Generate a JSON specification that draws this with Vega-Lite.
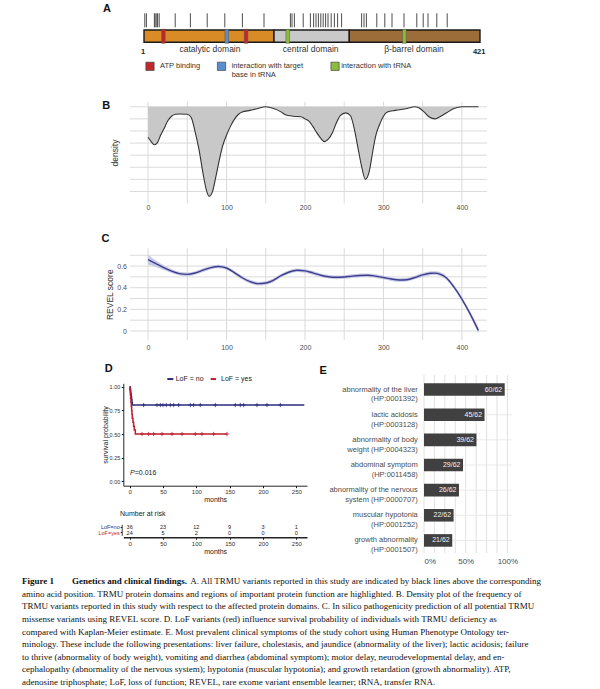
{
"$schema": "https://vega.github.io/schema/vega-lite/v6.json",
"width": 600, "height": 689, "autosize": {"type": "none"}, "padding": 0, "background": "white",
"config": {"font": "Liberation Sans", "view": {"stroke": null}, "axis": {"labelFlush": false}},
"resolve": {"scale": {"x": "independent", "y": "independent", "color": "independent"}, "axis": {"x": "independent", "y": "independent"}},
"layer": [
{"data": {"values": [{"r":2},{"r":4},{"r":14},{"r":15},{"r":17},{"r":18},{"r":20},{"r":40},{"r":59},{"r":80},{"r":102},{"r":124},{"r":151},{"r":184},{"r":186},{"r":189},{"r":200},{"r":209},{"r":213},{"r":216},{"r":219},{"r":222},{"r":225},{"r":228},{"r":231},{"r":235},{"r":239},{"r":243},{"r":248},{"r":273},{"r":276},{"r":279},{"r":292},{"r":302},{"r":311},{"r":326},{"r":342},{"r":350},{"r":356},{"r":367},{"r":380}]},
 "mark": {"type": "rule", "color": "#3a3a3a", "strokeWidth": 0.9},
 "encoding": {"x": {"field": "r", "type": "quantitative", "scale": {"domain": [1,421], "range": [144,480], "nice": false, "zero": false}, "axis": null},
  "y": {"datum": 1.33, "type": "quantitative", "scale": {"domain": [0,9], "range": [0,90], "nice": false, "zero": false}, "axis": null}, "y2": {"datum": 2.73}}},
{"data": {"values": [{"d":"catalytic domain","s":1,"e":163.5},{"d":"central domain","s":163.5,"e":257.6},{"d":"β-barrel domain","s":257.6,"e":421}]},
 "mark": {"type": "rect", "stroke": "#1a1a1a", "strokeWidth": 1.4},
 "encoding": {"x": {"field": "s", "type": "quantitative", "scale": {"domain": [1,421], "range": [144,480], "nice": false, "zero": false}, "axis": null}, "x2": {"field": "e"},
  "y": {"datum": 3.0, "type": "quantitative", "scale": {"domain": [0,9], "range": [0,90], "nice": false, "zero": false}, "axis": null}, "y2": {"datum": 4.23},
  "color": {"field": "d", "type": "nominal", "scale": {"domain": ["catalytic domain","central domain","β-barrel domain"], "range": ["#D98B26","#C9C9C9","#9C6C39"]}, "legend": null}}},
{"data": {"values": [{"site":"ATP binding","s":23,"e":27.5},{"site":"ATP binding","s":126.3,"e":130.8},{"site":"interaction with target base in tRNA","s":102.2,"e":106.7},{"site":"interaction with tRNA","s":178.4,"e":182.9},{"site":"interaction with tRNA","s":324.2,"e":328.7}]},
 "mark": {"type": "rect", "stroke": "#555555", "strokeWidth": 0.5},
 "encoding": {"x": {"field": "s", "type": "quantitative", "scale": {"domain": [1,421], "range": [144,480], "nice": false, "zero": false}, "axis": null}, "x2": {"field": "e"},
  "y": {"datum": 2.93, "type": "quantitative", "scale": {"domain": [0,9], "range": [0,90], "nice": false, "zero": false}, "axis": null}, "y2": {"datum": 4.33},
  "color": {"field": "site", "type": "nominal", "scale": {"domain": ["ATP binding","interaction with target base in tRNA","interaction with tRNA"], "range": ["#C1272D","#5B8ED0","#8DBB3A"]}, "legend": null}}},
{"data": {"values": [{"t":"catalytic domain","r":83.5},{"t":"central domain","r":209.4},{"t":"β-barrel domain","r":338.5}]},
 "mark": {"type": "text", "fontSize": 8.5, "color": "#333333", "align": "center", "baseline": "middle"},
 "encoding": {"x": {"field": "r", "type": "quantitative", "scale": {"domain": [1,421], "range": [144,480], "nice": false, "zero": false}, "axis": null},
  "y": {"datum": 4.9, "type": "quantitative", "scale": {"domain": [0,9], "range": [0,90], "nice": false, "zero": false}, "axis": null}, "text": {"field": "t"}}},
{"data": {"values": [{"t":"1","r":0},{"t":"421","r":420}]},
 "mark": {"type": "text", "fontSize": 7.5, "fontWeight": "bold", "color": "#222222", "align": "center", "baseline": "middle"},
 "encoding": {"x": {"field": "r", "type": "quantitative", "scale": {"domain": [1,421], "range": [144,480], "nice": false, "zero": false}, "axis": null},
  "y": {"datum": 5.17, "type": "quantitative", "scale": {"domain": [0,9], "range": [0,90], "nice": false, "zero": false}, "axis": null}, "text": {"field": "t"}}},
{"data": {"values": [{"site":"ATP binding","r":8.5},{"site":"interaction with target base in tRNA","r":97.9},{"site":"interaction with tRNA","r":239.8}]},
 "mark": {"type": "point", "shape": "square", "filled": true, "size": 68, "opacity": 1, "stroke": "#444444", "strokeWidth": 0.7},
 "encoding": {"x": {"field": "r", "type": "quantitative", "scale": {"domain": [1,421], "range": [144,480], "nice": false, "zero": false}, "axis": null},
  "y": {"datum": 6.63, "type": "quantitative", "scale": {"domain": [0,9], "range": [0,90], "nice": false, "zero": false}, "axis": null},
  "color": {"field": "site", "type": "nominal", "scale": {"domain": ["ATP binding","interaction with target base in tRNA","interaction with tRNA"], "range": ["#C1272D","#5B8ED0","#8DBB3A"]}, "legend": null}}},
{"data": {"values": [{"t":"ATP binding","r":21,"l":6.63},{"t":"interaction with target","r":110.6,"l":6.55},{"t":"base in tRNA","r":110.6,"l":7.5},{"t":"interaction with tRNA","r":247.5,"l":6.63}]},
 "mark": {"type": "text", "fontSize": 7.5, "color": "#333333", "align": "left", "baseline": "middle"},
 "encoding": {"x": {"field": "r", "type": "quantitative", "scale": {"domain": [1,421], "range": [144,480], "nice": false, "zero": false}, "axis": null},
  "y": {"field": "l", "type": "quantitative", "scale": {"domain": [0,9], "range": [0,90], "nice": false, "zero": false}, "axis": null}, "text": {"field": "t"}}},
{"data": {"values": [{"t":"A","r":-45.25,"l":0.85}]},
 "mark": {"type": "text", "fontSize": 11, "fontWeight": "bold", "color": "#111111", "align": "center", "baseline": "middle"},
 "encoding": {"x": {"field": "r", "type": "quantitative", "scale": {"domain": [1,421], "range": [144,480], "nice": false, "zero": false}, "axis": null},
  "y": {"field": "l", "type": "quantitative", "scale": {"domain": [0,9], "range": [0,90], "nice": false, "zero": false}, "axis": null}, "text": {"field": "t"}}},

{"data": {"values": [{"v":0},{"v":50},{"v":100},{"v":150},{"v":200},{"v":250},{"v":300},{"v":350},{"v":400}]},
 "mark": {"type": "rule", "color": "#D6D6D6", "strokeWidth": 0.9},
 "encoding": {"x": {"field": "v", "type": "quantitative", "scale": {"domain": [-23,432], "range": [130,487], "nice": false, "zero": false}, "axis": null},
  "y": {"datum": -0.21, "type": "quantitative", "scale": {"domain": [-0.21,3.99], "range": [101.7,203.3], "nice": false, "zero": false}, "axis": null}, "y2": {"datum": 3.99}}},
{"data": {"values": [{"v":0},{"v":0.5},{"v":1},{"v":1.5},{"v":2},{"v":2.5},{"v":3},{"v":3.5}]},
 "mark": {"type": "rule", "color": "#D6D6D6", "strokeWidth": 0.9},
 "encoding": {"y": {"field": "v", "type": "quantitative", "scale": {"domain": [-0.21,3.99], "range": [101.7,203.3], "nice": false, "zero": false}, "axis": null},
  "x": {"datum": -23, "type": "quantitative", "scale": {"domain": [-23,432], "range": [130,487], "nice": false, "zero": false}, "axis": null}, "x2": {"datum": 432}}},
{"data": {"name": "dens", "values": [{"p":0,"d":1.26},{"p":4,"d":1.44},{"p":8,"d":1.57},{"p":12,"d":1.48},{"p":16,"d":1.18},{"p":20,"d":0.93},{"p":25,"d":0.59},{"p":30,"d":0.39},{"p":35,"d":0.31},{"p":40,"d":0.30},{"p":50,"d":0.31},{"p":55,"d":0.44},{"p":60,"d":1.04},{"p":65,"d":1.78},{"p":70,"d":2.74},{"p":74,"d":3.40},{"p":78,"d":3.70},{"p":82,"d":3.52},{"p":86,"d":2.96},{"p":90,"d":2.33},{"p":95,"d":1.63},{"p":100,"d":1.18},{"p":105,"d":0.81},{"p":110,"d":0.52},{"p":115,"d":0.32},{"p":120,"d":0.22},{"p":130,"d":0.15},{"p":140,"d":0.07},{"p":150,"d":0.0},{"p":160,"d":0.07},{"p":170,"d":0.22},{"p":175,"d":0.33},{"p":185,"d":0.39},{"p":195,"d":0.41},{"p":200,"d":0.50},{"p":205,"d":0.59},{"p":210,"d":0.81},{"p":215,"d":1.07},{"p":220,"d":1.30},{"p":225,"d":1.44},{"p":230,"d":1.33},{"p":235,"d":1.07},{"p":240,"d":0.67},{"p":245,"d":0.37},{"p":252,"d":0.25},{"p":258,"d":0.37},{"p":263,"d":0.93},{"p":268,"d":1.78},{"p":272,"d":2.44},{"p":277,"d":3.00},{"p":282,"d":2.66},{"p":286,"d":1.92},{"p":290,"d":1.22},{"p":295,"d":0.74},{"p":300,"d":0.39},{"p":305,"d":0.22},{"p":315,"d":0.15},{"p":330,"d":0.07},{"p":340,"d":0.0},{"p":345,"d":0.04},{"p":352,"d":0.22},{"p":358,"d":0.41},{"p":366,"d":0.50},{"p":372,"d":0.41},{"p":380,"d":0.26},{"p":390,"d":0.07},{"p":400,"d":0.0},{"p":410,"d":0.0},{"p":421,"d":0.0}]},
 "mark": {"type": "area", "orient": "vertical", "color": "#C8C8C8", "interpolate": "monotone"},
 "encoding": {"x": {"field": "p", "type": "quantitative", "scale": {"domain": [-23,432], "range": [130,487], "nice": false, "zero": false},
   "axis": {"orient": "bottom", "offset": -485.7, "values": [0,100,200,300,400], "domain": false, "ticks": false, "grid": false, "labelPadding": 0.5, "labelFontSize": 7, "labelColor": "#4D4D4D", "title": null}},
  "y": {"field": "d", "type": "quantitative", "scale": {"domain": [-0.21,3.99], "range": [101.7,203.3], "nice": false, "zero": false},
   "axis": {"orient": "left", "offset": -130, "labels": false, "ticks": false, "domain": false, "grid": false, "title": "density", "titleFontSize": 8.5, "titleFontWeight": "normal", "titleColor": "#333333", "titlePadding": 11}},
  "y2": {"datum": 0}}},
{"data": {"name": "dens"},
 "mark": {"type": "line", "color": "#333333", "strokeWidth": 1.1, "interpolate": "monotone"},
 "encoding": {"x": {"field": "p", "type": "quantitative", "scale": {"domain": [-23,432], "range": [130,487], "nice": false, "zero": false}, "axis": null},
  "y": {"field": "d", "type": "quantitative", "scale": {"domain": [-0.21,3.99], "range": [101.7,203.3], "nice": false, "zero": false}, "axis": null}}},
{"data": {"values": [{"t":"B","x":-53.2,"y":-0.02}]},
 "mark": {"type": "text", "fontSize": 11, "fontWeight": "bold", "color": "#111111", "align": "center", "baseline": "middle"},
 "encoding": {"x": {"field": "x", "type": "quantitative", "scale": {"domain": [-23,432], "range": [130,487], "nice": false, "zero": false}, "axis": null},
  "y": {"field": "y", "type": "quantitative", "scale": {"domain": [-0.21,3.99], "range": [101.7,203.3], "nice": false, "zero": false}, "axis": null}, "text": {"field": "t"}}},

{"data": {"values": [{"v":0},{"v":50},{"v":100},{"v":150},{"v":200},{"v":250},{"v":300},{"v":350},{"v":400}]},
 "mark": {"type": "rule", "color": "#D6D6D6", "strokeWidth": 0.9},
 "encoding": {"x": {"field": "v", "type": "quantitative", "scale": {"domain": [-23,432], "range": [130,487], "nice": false, "zero": false}, "axis": null},
  "y": {"datum": -0.085, "type": "quantitative", "scale": {"domain": [-0.085,0.765], "range": [340.2,248.2], "nice": false, "zero": false}, "axis": null}, "y2": {"datum": 0.765}}},
{"data": {"values": [{"v":0},{"v":0.1},{"v":0.2},{"v":0.3},{"v":0.4},{"v":0.5},{"v":0.6},{"v":0.7}]},
 "mark": {"type": "rule", "color": "#D6D6D6", "strokeWidth": 0.9},
 "encoding": {"y": {"field": "v", "type": "quantitative", "scale": {"domain": [-0.085,0.765], "range": [340.2,248.2], "nice": false, "zero": false}, "axis": null},
  "x": {"datum": -23, "type": "quantitative", "scale": {"domain": [-23,432], "range": [130,487], "nice": false, "zero": false}, "axis": null}, "x2": {"datum": 432}}},
{"data": {"name": "revel", "values": [{"p":0,"m":0.66,"lo":0.615,"hi":0.705},{"p":10,"m":0.622,"lo":0.592,"hi":0.652},{"p":20,"m":0.585,"lo":0.563,"hi":0.607},{"p":30,"m":0.553,"lo":0.535,"hi":0.571},{"p":40,"m":0.530,"lo":0.513,"hi":0.547},{"p":50,"m":0.523,"lo":0.506,"hi":0.540},{"p":60,"m":0.536,"lo":0.519,"hi":0.553},{"p":70,"m":0.562,"lo":0.545,"hi":0.579},{"p":80,"m":0.586,"lo":0.569,"hi":0.603},{"p":90,"m":0.596,"lo":0.579,"hi":0.613},{"p":100,"m":0.582,"lo":0.565,"hi":0.599},{"p":110,"m":0.540,"lo":0.523,"hi":0.557},{"p":120,"m":0.492,"lo":0.475,"hi":0.509},{"p":130,"m":0.456,"lo":0.439,"hi":0.473},{"p":140,"m":0.438,"lo":0.421,"hi":0.455},{"p":150,"m":0.443,"lo":0.426,"hi":0.460},{"p":160,"m":0.470,"lo":0.453,"hi":0.487},{"p":170,"m":0.513,"lo":0.496,"hi":0.530},{"p":180,"m":0.545,"lo":0.528,"hi":0.562},{"p":190,"m":0.561,"lo":0.544,"hi":0.578},{"p":200,"m":0.556,"lo":0.539,"hi":0.573},{"p":210,"m":0.537,"lo":0.520,"hi":0.554},{"p":220,"m":0.515,"lo":0.498,"hi":0.532},{"p":230,"m":0.501,"lo":0.484,"hi":0.518},{"p":240,"m":0.496,"lo":0.479,"hi":0.513},{"p":250,"m":0.499,"lo":0.482,"hi":0.516},{"p":260,"m":0.507,"lo":0.490,"hi":0.524},{"p":270,"m":0.513,"lo":0.496,"hi":0.530},{"p":280,"m":0.515,"lo":0.498,"hi":0.532},{"p":290,"m":0.507,"lo":0.490,"hi":0.524},{"p":300,"m":0.494,"lo":0.477,"hi":0.511},{"p":310,"m":0.480,"lo":0.463,"hi":0.497},{"p":320,"m":0.471,"lo":0.454,"hi":0.488},{"p":330,"m":0.474,"lo":0.457,"hi":0.491},{"p":340,"m":0.494,"lo":0.477,"hi":0.511},{"p":350,"m":0.518,"lo":0.500,"hi":0.536},{"p":360,"m":0.533,"lo":0.515,"hi":0.551},{"p":366,"m":0.535,"lo":0.517,"hi":0.553},{"p":372,"m":0.526,"lo":0.508,"hi":0.544},{"p":380,"m":0.492,"lo":0.474,"hi":0.510},{"p":390,"m":0.405,"lo":0.386,"hi":0.424},{"p":400,"m":0.295,"lo":0.275,"hi":0.315},{"p":410,"m":0.165,"lo":0.143,"hi":0.187},{"p":421,"m":0.005,"lo":-0.025,"hi":0.035}]},
 "mark": {"type": "area", "orient": "vertical", "color": "#C9CBE5", "interpolate": "monotone"},
 "encoding": {"x": {"field": "p", "type": "quantitative", "scale": {"domain": [-23,432], "range": [130,487], "nice": false, "zero": false}, "axis": null},
  "y": {"field": "lo", "type": "quantitative", "scale": {"domain": [-0.085,0.765], "range": [340.2,248.2], "nice": false, "zero": false}, "axis": null}, "y2": {"field": "hi"}}},
{"data": {"name": "revel"},
 "mark": {"type": "line", "color": "#3D3D8F", "strokeWidth": 1.4, "interpolate": "monotone"},
 "encoding": {"x": {"field": "p", "type": "quantitative", "scale": {"domain": [-23,432], "range": [130,487], "nice": false, "zero": false},
   "axis": {"orient": "bottom", "offset": -348.8, "values": [0,100,200,300,400], "domain": false, "ticks": false, "grid": false, "labelPadding": 3.3, "labelFontSize": 7, "labelColor": "#4D4D4D", "title": null}},
  "y": {"field": "m", "type": "quantitative", "scale": {"domain": [-0.085,0.765], "range": [340.2,248.2], "nice": false, "zero": false},
   "axis": {"orient": "left", "offset": -130, "values": [0,0.2,0.4,0.6], "format": ".1~f", "domain": false, "ticks": false, "grid": false, "labelPadding": 3.5, "labelFontSize": 7, "labelColor": "#4D4D4D", "title": "REVEL score", "titleFontSize": 8.5, "titleFontWeight": "normal", "titleColor": "#333333", "titlePadding": 2.5}}}},
{"data": {"values": [{"t":"C","x":-54.2,"y":0.848}]},
 "mark": {"type": "text", "fontSize": 11, "fontWeight": "bold", "color": "#111111", "align": "center", "baseline": "middle"},
 "encoding": {"x": {"field": "x", "type": "quantitative", "scale": {"domain": [-23,432], "range": [130,487], "nice": false, "zero": false}, "axis": null},
  "y": {"field": "y", "type": "quantitative", "scale": {"domain": [-0.085,0.765], "range": [340.2,248.2], "nice": false, "zero": false}, "axis": null}, "text": {"field": "t"}}},

{"data": {"values": [{"g":"no","t":0,"s":1},{"g":"no","t":0.8,"s":0.972},{"g":"no","t":1.5,"s":0.944},{"g":"no","t":2,"s":0.917},{"g":"no","t":2.5,"s":0.889},{"g":"no","t":3,"s":0.861},{"g":"no","t":3.5,"s":0.833},{"g":"no","t":4,"s":0.806},{"g":"no","t":262,"s":0.806},
  {"g":"yes","t":0,"s":1},{"g":"yes","t":0.5,"s":0.958},{"g":"yes","t":1,"s":0.917},{"g":"yes","t":1.5,"s":0.875},{"g":"yes","t":2,"s":0.833},{"g":"yes","t":2.5,"s":0.792},{"g":"yes","t":3,"s":0.75},{"g":"yes","t":3.5,"s":0.708},{"g":"yes","t":4,"s":0.667},{"g":"yes","t":5,"s":0.625},{"g":"yes","t":6,"s":0.583},{"g":"yes","t":7,"s":0.542},{"g":"yes","t":8.5,"s":0.5},{"g":"yes","t":146,"s":0.5}]},
 "mark": {"type": "line", "strokeWidth": 1.5, "interpolate": "step-after"},
 "encoding": {"x": {"field": "t", "type": "quantitative", "scale": {"domain": [-9.5,266], "range": [123.3,307], "nice": false, "zero": false},
   "axis": {"orient": "bottom", "offset": -203.3, "values": [0,50,100,150,200,250], "domain": true, "domainColor": "#111111", "domainWidth": 0.9, "ticks": true, "tickSize": 2, "tickColor": "#111111", "grid": false, "labelPadding": 1, "labelFontSize": 6, "labelColor": "#333333", "title": "months", "titleFontSize": 7, "titleFontWeight": "normal", "titleColor": "#222222", "titlePadding": 1}},
  "y": {"field": "s", "type": "quantitative", "scale": {"domain": [-0.0465,1.036], "range": [485.7,383.3], "nice": false, "zero": false},
   "axis": {"orient": "left", "offset": -123.3, "values": [0,0.25,0.5,0.75,1], "format": ".2f", "domain": true, "domainColor": "#111111", "domainWidth": 0.9, "ticks": true, "tickSize": 2, "tickColor": "#111111", "grid": false, "labelPadding": 1.5, "labelFontSize": 5.5, "labelColor": "#333333", "title": "survival probability", "titleFontSize": 7, "titleFontWeight": "normal", "titleColor": "#222222", "titlePadding": 1}},
  "color": {"field": "g", "type": "nominal", "scale": {"domain": ["no","yes"], "range": ["#2B2D7E","#BE1E2D"]}, "legend": null}}},
{"data": {"values": [{"g":"no","t":21,"s":0.806},{"g":"no","t":41,"s":0.806},{"g":"no","t":46,"s":0.806},{"g":"no","t":50,"s":0.806},{"g":"no","t":55,"s":0.806},{"g":"no","t":61,"s":0.806},{"g":"no","t":66,"s":0.806},{"g":"no","t":73.5,"s":0.806},{"g":"no","t":91,"s":0.806},{"g":"no","t":96,"s":0.806},{"g":"no","t":106,"s":0.806},{"g":"no","t":128.5,"s":0.806},{"g":"no","t":158.5,"s":0.806},{"g":"no","t":166,"s":0.806},{"g":"no","t":171,"s":0.806},{"g":"no","t":191,"s":0.806},{"g":"no","t":206,"s":0.806},{"g":"no","t":226,"s":0.806},
  {"g":"yes","t":18.5,"s":0.5},{"g":"yes","t":28.5,"s":0.5},{"g":"yes","t":36,"s":0.5},{"g":"yes","t":48.5,"s":0.5},{"g":"yes","t":63.5,"s":0.5},{"g":"yes","t":78.5,"s":0.5},{"g":"yes","t":98.5,"s":0.5},{"g":"yes","t":108.5,"s":0.5},{"g":"yes","t":126,"s":0.5},{"g":"yes","t":146,"s":0.5}]},
 "mark": {"type": "point", "shape": "M-1,0L1,0M0,-1L0,1", "filled": false, "size": 18, "strokeWidth": 0.8, "opacity": 1},
 "encoding": {"x": {"field": "t", "type": "quantitative", "scale": {"domain": [-9.5,266], "range": [123.3,307], "nice": false, "zero": false}, "axis": null},
  "y": {"field": "s", "type": "quantitative", "scale": {"domain": [-0.0465,1.036], "range": [485.7,383.3], "nice": false, "zero": false}, "axis": null},
  "color": {"field": "g", "type": "nominal", "scale": {"domain": ["no","yes"], "range": ["#2B2D7E","#BE1E2D"]}, "legend": null}}},
{"data": {"values": [{"g":"no","a":56.5,"b":65.5},{"g":"yes","a":121.6,"b":129.5}]},
 "mark": {"type": "rule", "strokeWidth": 2},
 "encoding": {"x": {"field": "a", "type": "quantitative", "scale": {"domain": [-9.5,266], "range": [123.3,307], "nice": false, "zero": false}, "axis": null}, "x2": {"field": "b"},
  "y": {"datum": 1.081, "type": "quantitative", "scale": {"domain": [-0.0465,1.036], "range": [485.7,383.3], "nice": false, "zero": false}, "axis": null},
  "color": {"field": "g", "type": "nominal", "scale": {"domain": ["no","yes"], "range": ["#2B2D7E","#BE1E2D"]}, "legend": null}}},
{"data": {"values": [{"t":"LoF = no","x":69.1,"y":1.081},{"t":"LoF = yes","x":137,"y":1.081},{"t":"=0.016","x":7.6,"y":0.085},{"t":"Number at risk","x":-14.45,"y":-0.349}]},
 "mark": {"type": "text", "fontSize": 7, "color": "#222222", "align": "left", "baseline": "middle"},
 "encoding": {"x": {"field": "x", "type": "quantitative", "scale": {"domain": [-9.5,266], "range": [123.3,307], "nice": false, "zero": false}, "axis": null},
  "y": {"field": "y", "type": "quantitative", "scale": {"domain": [-0.0465,1.036], "range": [485.7,383.3], "nice": false, "zero": false}, "axis": null}, "text": {"field": "t"}}},
{"data": {"values": [{"t":"P","x":0.55,"y":0.085}]},
 "mark": {"type": "text", "fontSize": 7, "fontStyle": "italic", "color": "#222222", "align": "left", "baseline": "middle"},
 "encoding": {"x": {"field": "x", "type": "quantitative", "scale": {"domain": [-9.5,266], "range": [123.3,307], "nice": false, "zero": false}, "axis": null},
  "y": {"field": "y", "type": "quantitative", "scale": {"domain": [-0.0465,1.036], "range": [485.7,383.3], "nice": false, "zero": false}, "axis": null}, "text": {"field": "t"}}},
{"data": {"values": [{"t":"D","x":-31.5,"y":1.192},{"t":"E","x":290.4,"y":1.171}]},
 "mark": {"type": "text", "fontSize": 11, "fontWeight": "bold", "color": "#111111", "align": "center", "baseline": "middle"},
 "encoding": {"x": {"field": "x", "type": "quantitative", "scale": {"domain": [-9.5,266], "range": [123.3,307], "nice": false, "zero": false}, "axis": null},
  "y": {"field": "y", "type": "quantitative", "scale": {"domain": [-0.0465,1.036], "range": [485.7,383.3], "nice": false, "zero": false}, "axis": null}, "text": {"field": "t"}}},
{"data": {"values": [{"g":"LoF=no","t":0,"n":"36"},{"g":"LoF=no","t":50,"n":"23"},{"g":"LoF=no","t":100,"n":"12"},{"g":"LoF=no","t":150,"n":"9"},{"g":"LoF=no","t":200,"n":"3"},{"g":"LoF=no","t":250,"n":"1"},
  {"g":"LoF=yes","t":0,"n":"24"},{"g":"LoF=yes","t":50,"n":"5"},{"g":"LoF=yes","t":100,"n":"2"},{"g":"LoF=yes","t":150,"n":"0"},{"g":"LoF=yes","t":200,"n":"0"},{"g":"LoF=yes","t":250,"n":"0"}]},
 "mark": {"type": "text", "fontSize": 5.5, "color": "#222222", "align": "center", "baseline": "middle"},
 "encoding": {"x": {"field": "t", "type": "quantitative", "scale": {"domain": [-9.5,266], "range": [123.3,307], "nice": false, "zero": false},
   "axis": {"orient": "bottom", "offset": -151.7, "values": [0,50,100,150,200,250], "domain": true, "domainColor": "#222222", "domainWidth": 1.6, "ticks": true, "tickSize": 2, "tickColor": "#222222", "grid": false, "labelPadding": 1, "labelFontSize": 6, "labelColor": "#333333", "title": "months", "titleFontSize": 7, "titleFontWeight": "normal", "titleColor": "#222222", "titlePadding": 1}},
  "y": {"field": "g", "type": "nominal", "scale": {"type": "band", "domain": ["LoF=no","LoF=yes"], "range": [524.3,535.3], "paddingInner": 0, "paddingOuter": 0},
   "axis": {"orient": "left", "offset": -121.7, "domain": true, "domainColor": "#222222", "domainWidth": 0.9, "ticks": true, "tickSize": 1.5, "tickColor": "#222222", "grid": false, "labelPadding": 1, "labelFontSize": 5.5, "labelColor": {"condition": {"test": "datum.value === 'LoF=no'", "value": "#2B2D7E"}, "value": "#BE1E2D"}, "title": null}},
  "text": {"field": "n"}}},

{"data": {"values": [{"v":0},{"v":0.125},{"v":0.25},{"v":0.375},{"v":0.5},{"v":0.625},{"v":0.75},{"v":0.875},{"v":1}]},
 "mark": {"type": "rule", "color": "#D9D9D9", "strokeWidth": 0.8},
 "encoding": {"x": {"field": "v", "type": "quantitative", "scale": {"domain": [0,1.0515], "range": [424,511.7], "nice": false, "zero": false}, "axis": null},
  "y": {"datum": 0, "type": "quantitative", "scale": {"domain": [0,1], "range": [553,375], "nice": false, "zero": false}, "axis": null}, "y2": {"datum": 1}}},
{"data": {"name": "hpo", "values": [{"c":"abnormality of the liver\n(HP:0001392)","n":60,"lab":"60/62"},{"c":"lactic acidosis\n(HP:0003128)","n":45,"lab":"45/62"},{"c":"abnormality of body\nweight (HP:0004323)","n":39,"lab":"39/62"},{"c":"abdominal symptom\n(HP:0011458)","n":29,"lab":"29/62"},{"c":"abnormality of the nervous\nsystem (HP:0000707)","n":26,"lab":"26/62"},{"c":"muscular hypotonia\n(HP:0001252)","n":22,"lab":"22/62"},{"c":"growth abnormality\n(HP:0001507)","n":21,"lab":"21/62"}]},
 "transform": [{"calculate": "datum.n / 62", "as": "f"}],
 "mark": {"type": "rule", "color": "#E3E3E3", "strokeWidth": 0.8},
 "encoding": {"y": {"field": "c", "type": "nominal", "scale": {"type": "band", "domain": ["abnormality of the liver\n(HP:0001392)","lactic acidosis\n(HP:0003128)","abnormality of body\nweight (HP:0004323)","abdominal symptom\n(HP:0011458)","abnormality of the nervous\nsystem (HP:0000707)","muscular hypotonia\n(HP:0001252)","growth abnormality\n(HP:0001507)"], "range": [377,553], "paddingInner": 0.5, "paddingOuter": 0.25}, "axis": null},
  "x": {"datum": 0, "type": "quantitative", "scale": {"domain": [0,1.0515], "range": [424,511.7], "nice": false, "zero": false}, "axis": null}, "x2": {"datum": 1.0515}}},
{"data": {"name": "hpo"},
 "transform": [{"calculate": "datum.n / 62", "as": "f"}],
 "mark": {"type": "bar", "color": "#404040"},
 "encoding": {"y": {"field": "c", "type": "nominal", "scale": {"type": "band", "domain": ["abnormality of the liver\n(HP:0001392)","lactic acidosis\n(HP:0003128)","abnormality of body\nweight (HP:0004323)","abdominal symptom\n(HP:0011458)","abnormality of the nervous\nsystem (HP:0000707)","muscular hypotonia\n(HP:0001252)","growth abnormality\n(HP:0001507)"], "range": [377,553], "paddingInner": 0.5, "paddingOuter": 0.25},
   "axis": {"orient": "left", "offset": -424, "labelExpr": "split(datum.label, '\\n')", "labelLineHeight": 9.8, "labelFontSize": 7.5, "labelColor": "#4D4D4D", "labelPadding": 6.7, "labelLimit": 300, "ticks": false, "domain": false, "grid": false, "title": null}},
  "x": {"field": "f", "type": "quantitative", "scale": {"domain": [0,1.0515], "range": [424,511.7], "nice": false, "zero": false},
   "axis": {"orient": "bottom", "offset": -136, "values": [0,0.5,1], "format": ".0%", "labelFlush": true, "labelFontSize": 8, "labelColor": "#4D4D4D", "labelPadding": 4.7, "ticks": false, "domain": false, "grid": false, "title": null}}}},
{"data": {"name": "hpo"},
 "transform": [{"calculate": "datum.n / 62", "as": "f"}],
 "mark": {"type": "text", "color": "#F2F2F2", "fontSize": 7, "align": "right", "baseline": "middle", "dx": -2.5},
 "encoding": {"y": {"field": "c", "type": "nominal", "scale": {"type": "band", "domain": ["abnormality of the liver\n(HP:0001392)","lactic acidosis\n(HP:0003128)","abnormality of body\nweight (HP:0004323)","abdominal symptom\n(HP:0011458)","abnormality of the nervous\nsystem (HP:0000707)","muscular hypotonia\n(HP:0001252)","growth abnormality\n(HP:0001507)"], "range": [377,553], "paddingInner": 0.5, "paddingOuter": 0.25}, "axis": null},
  "x": {"field": "f", "type": "quantitative", "scale": {"domain": [0,1.0515], "range": [424,511.7], "nice": false, "zero": false}, "axis": null},
  "text": {"field": "lab"}}},

{"data": {"values": [{"line":1,"pos":0,"t":"Figure 1"},{"line":1,"pos":0.088,"t":"Genetics and clinical findings."}]},
 "mark": {"type": "text", "font": "Liberation Serif", "fontSize": 9, "fontWeight": "bold", "color": "#111111", "align": "left", "baseline": "middle"},
 "encoding": {"x": {"field": "pos", "type": "quantitative", "scale": {"domain": [0,1], "range": [22,590], "nice": false, "zero": false}, "axis": null},
  "y": {"field": "line", "type": "quantitative", "scale": {"domain": [1,9], "range": [581,682], "nice": false, "zero": false}, "axis": null}, "text": {"field": "t"}}},
{"data": {"values": [
  {"line":1,"pos":0.296,"t":"A. All TRMU variants reported in this study are indicated by black lines above the corresponding"},
  {"line":2,"pos":0,"t":"amino acid position. TRMU protein domains and regions of important protein function are highlighted. B. Density plot of the frequency of"},
  {"line":3,"pos":0,"t":"TRMU variants reported in this study with respect to the affected protein domains. C. In silico pathogenicity prediction of all potential TRMU"},
  {"line":4,"pos":0,"t":"missense variants using REVEL score. D. LoF variants (red) influence survival probability of individuals with TRMU deficiency as"},
  {"line":5,"pos":0,"t":"compared with Kaplan-Meier estimate. E. Most prevalent clinical symptoms of the study cohort using Human Phenotype Ontology ter-"},
  {"line":6,"pos":0,"t":"minology. These include the following presentations: liver failure, cholestasis, and jaundice (abnormality of the liver); lactic acidosis; failure"},
  {"line":7,"pos":0,"t":"to thrive (abnormality of body weight), vomiting and diarrhea (abdominal symptom); motor delay, neurodevelopmental delay, and en-"},
  {"line":8,"pos":0,"t":"cephalopathy (abnormality of the nervous system); hypotonia (muscular hypotonia); and growth retardation (growth abnormality). ATP,"},
  {"line":9,"pos":0,"t":"adenosine triphosphate; LoF, loss of function; REVEL, rare exome variant ensemble learner; tRNA, transfer RNA."}]},
 "mark": {"type": "text", "font": "Liberation Serif", "fontSize": 9, "color": "#111111", "align": "left", "baseline": "middle"},
 "encoding": {"x": {"field": "pos", "type": "quantitative", "scale": {"domain": [0,1], "range": [22,590], "nice": false, "zero": false}, "axis": null},
  "y": {"field": "line", "type": "quantitative", "scale": {"domain": [1,9], "range": [581,682], "nice": false, "zero": false}, "axis": null}, "text": {"field": "t"}}}
]
}
